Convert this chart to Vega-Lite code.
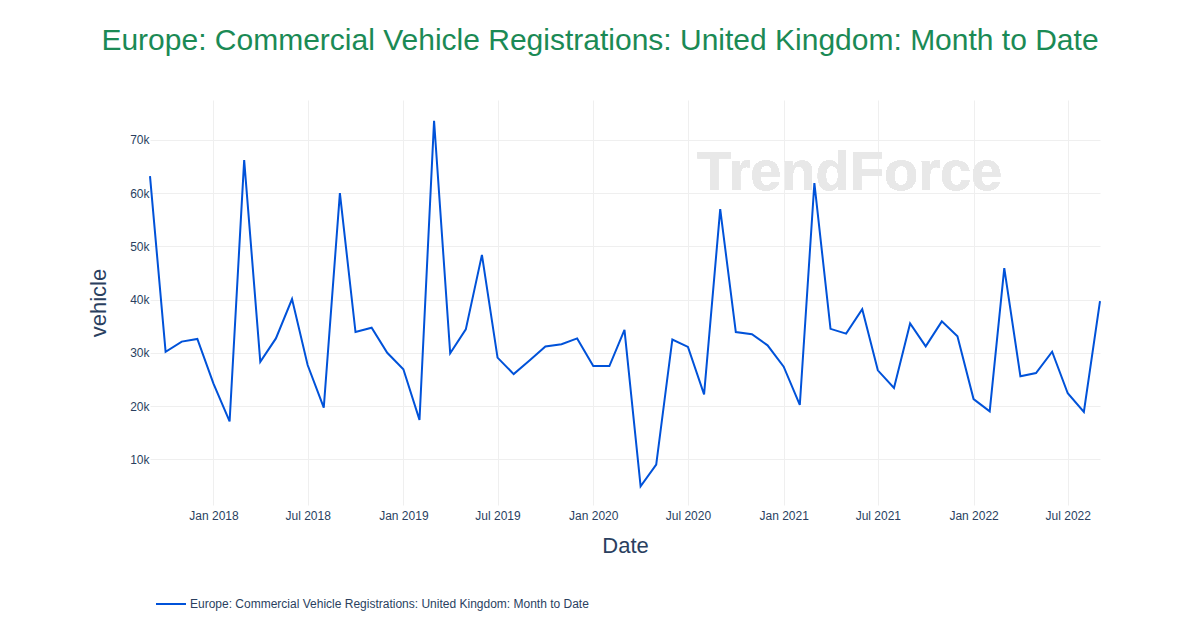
{
  "$schema": "https://vega.github.io/schema/vega-lite/v6.json",
  "width": 950,
  "height": 405,
  "autosize": {"type": "none"},
  "padding": {"left": 150, "top": 100, "right": 100, "bottom": 125},
  "background": "white",
  "config": {
    "font": "Liberation Sans",
    "view": {"stroke": null}
  },
  "title": {
    "text": "Europe: Commercial Vehicle Registrations: United Kingdom: Month to Date",
    "color": "#1b8a55",
    "fontSize": 30,
    "fontWeight": "normal",
    "font": "Liberation Sans",
    "anchor": "middle",
    "dx": -25,
    "offset": 44
  },
  "data": {
    "values": [
      {"date": "2017-09-01", "value": 63200},
      {"date": "2017-10-01", "value": 30200},
      {"date": "2017-11-01", "value": 32100},
      {"date": "2017-12-01", "value": 32600},
      {"date": "2018-01-01", "value": 24200},
      {"date": "2018-02-01", "value": 17100},
      {"date": "2018-03-01", "value": 66200},
      {"date": "2018-04-01", "value": 28300},
      {"date": "2018-05-01", "value": 32700},
      {"date": "2018-06-01", "value": 40100},
      {"date": "2018-07-01", "value": 27700},
      {"date": "2018-08-01", "value": 19700},
      {"date": "2018-09-01", "value": 60000},
      {"date": "2018-10-01", "value": 33900},
      {"date": "2018-11-01", "value": 34700},
      {"date": "2018-12-01", "value": 30000},
      {"date": "2019-01-01", "value": 26900},
      {"date": "2019-02-01", "value": 17400},
      {"date": "2019-03-01", "value": 73600},
      {"date": "2019-04-01", "value": 29900},
      {"date": "2019-05-01", "value": 34400},
      {"date": "2019-06-01", "value": 48400},
      {"date": "2019-07-01", "value": 29100},
      {"date": "2019-08-01", "value": 26000},
      {"date": "2019-09-01", "value": 28600},
      {"date": "2019-10-01", "value": 31200},
      {"date": "2019-11-01", "value": 31600},
      {"date": "2019-12-01", "value": 32700},
      {"date": "2020-01-01", "value": 27500},
      {"date": "2020-02-01", "value": 27500},
      {"date": "2020-03-01", "value": 34300},
      {"date": "2020-04-01", "value": 4900},
      {"date": "2020-05-01", "value": 9000},
      {"date": "2020-06-01", "value": 32500},
      {"date": "2020-07-01", "value": 31100},
      {"date": "2020-08-01", "value": 22200},
      {"date": "2020-09-01", "value": 57000},
      {"date": "2020-10-01", "value": 33900},
      {"date": "2020-11-01", "value": 33500},
      {"date": "2020-12-01", "value": 31400},
      {"date": "2021-01-01", "value": 27400},
      {"date": "2021-02-01", "value": 20200},
      {"date": "2021-03-01", "value": 61900},
      {"date": "2021-04-01", "value": 34500},
      {"date": "2021-05-01", "value": 33600},
      {"date": "2021-06-01", "value": 38200},
      {"date": "2021-07-01", "value": 26700},
      {"date": "2021-08-01", "value": 23400},
      {"date": "2021-09-01", "value": 35500},
      {"date": "2021-10-01", "value": 31200},
      {"date": "2021-11-01", "value": 35900},
      {"date": "2021-12-01", "value": 33100},
      {"date": "2022-01-01", "value": 21300},
      {"date": "2022-02-01", "value": 19000},
      {"date": "2022-03-01", "value": 45900},
      {"date": "2022-04-01", "value": 25600},
      {"date": "2022-05-01", "value": 26200},
      {"date": "2022-06-01", "value": 30200},
      {"date": "2022-07-01", "value": 22400},
      {"date": "2022-08-01", "value": 18900},
      {"date": "2022-09-01", "value": 39700}
    ]
  },
  "layer": [
    {
      "mark": {"type": "text", "text": "TrendForce", "fontSize": 56, "fontWeight": "bold", "font": "Liberation Sans", "color": "#e8e8e8", "align": "center", "baseline": "middle"},
      "encoding": {
        "x": {"datum": {"year": 2021, "month": 5, "date": 8}, "type": "temporal"},
        "y": {"datum": 63800, "type": "quantitative"}
      }
    },
    {
      "mark": {"type": "line", "strokeWidth": 2, "interpolate": "linear"},
      "encoding": {
        "x": {
          "field": "date",
          "type": "temporal",
          "scale": {"domain": ["2017-09-01", "2022-09-01"], "nice": false},
          "axis": {
            "title": "Date",
            "titleFontSize": 22,
            "titleFontWeight": "normal",
            "titleColor": "#2a3f5f",
            "titlePadding": 14,
            "format": "%b %Y",
            "tickCount": {"interval": "month", "step": 6},
            "labelFontSize": 12,
            "labelColor": "#2a3f5f",
            "labelPadding": 5,
            "labelFlush": false,
            "domain": false,
            "ticks": false,
            "grid": true,
            "gridColor": "#efefef",
            "gridWidth": 1
          }
        },
        "y": {
          "field": "value",
          "type": "quantitative",
          "scale": {"domain": [1400, 77500], "nice": false, "zero": false},
          "axis": {
            "title": "vehicle",
            "titleFontSize": 22,
            "titleFontWeight": "normal",
            "titleColor": "#2a3f5f",
            "titlePadding": 19,
            "values": [10000, 20000, 30000, 40000, 50000, 60000, 70000],
            "format": "~s",
            "labelFontSize": 12,
            "labelColor": "#2a3f5f",
            "labelPadding": 1,
            "domain": false,
            "ticks": false,
            "grid": true,
            "gridColor": "#efefef",
            "gridWidth": 1
          }
        },
        "color": {
          "datum": "Europe: Commercial Vehicle Registrations: United Kingdom: Month to Date",
          "type": "nominal",
          "scale": {"range": ["#0052d9"]},
          "legend": {
            "title": null,
            "orient": "none",
            "legendX": 5,
            "legendY": 488,
            "symbolType": "stroke",
            "symbolSize": 900,
            "symbolStrokeWidth": 2,
            "labelFontSize": 12,
            "labelColor": "#2a3f5f",
            "labelLimit": 600,
            "labelOffset": 3
          }
        }
      }
    }
  ]
}
